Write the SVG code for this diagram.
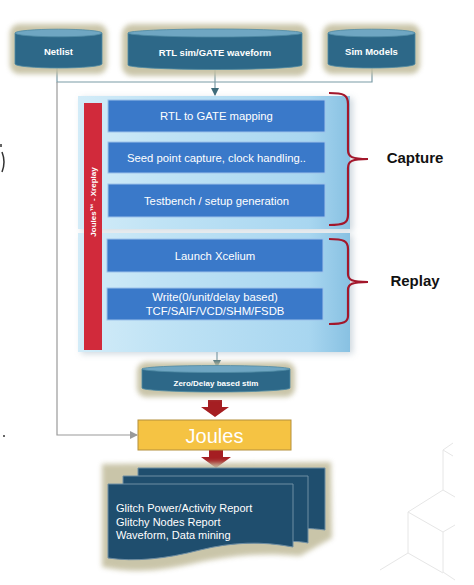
<svg xmlns="http://www.w3.org/2000/svg" width="474" height="585" viewBox="0 0 474 585">
<defs>
<filter id="blur" x="-20%" y="-50%" width="140%" height="200%">
<feGaussianBlur stdDeviation="2.5"/>
</filter>
<filter id="shadow" x="-10%" y="-10%" width="130%" height="130%">
<feGaussianBlur in="SourceAlpha" stdDeviation="3" result="b"/>
<feOffset dx="3" dy="2" in="b" result="o"/>
<feFlood flood-color="#8aa0b0" flood-opacity="0.4"/>
<feComposite in2="o" operator="in" result="s"/>
<feMerge><feMergeNode in="s"/><feMergeNode in="SourceGraphic"/></feMerge>
</filter>
<linearGradient id="panel" x1="0" y1="0" x2="1" y2="0">
<stop offset="0" stop-color="#d3ecf8"/>
<stop offset="0.3" stop-color="#c0e3f5"/>
<stop offset="0.85" stop-color="#a8d6f0"/>
<stop offset="1" stop-color="#88c1e2"/>
</linearGradient>
<marker id="ah" markerWidth="8" markerHeight="8" refX="7" refY="4" orient="auto" markerUnits="userSpaceOnUse">
<path d="M0,0 L8,4 L0,8 Z" fill="#3e6b7a"/>
</marker>
<marker id="ahg" markerWidth="8" markerHeight="8" refX="7" refY="4" orient="auto" markerUnits="userSpaceOnUse">
<path d="M0,0 L8,4 L0,8 Z" fill="#9a9a9a"/>
</marker>
<style>
.halo{fill:#c4bfa0;opacity:0.9}
.cylbody{fill:#2d6888;stroke:#4f8aa3;stroke-width:0.8}
.cyltop{fill:#6fa6c2;stroke:#4f8aa3;stroke-width:0.8}
.cyltxt{font-family:"Liberation Sans",Arial,sans-serif;font-weight:bold;fill:#ffffff;text-anchor:middle}
.box{fill:#3a79c9;stroke:#9cc2ea;stroke-width:1}
.boxtxt{font-family:"Liberation Sans",Arial,sans-serif;font-size:11.3px;fill:#ffffff;text-anchor:middle}
.brace{fill:none;stroke:#a3172b;stroke-width:2.2}
.lbl{font-family:"Liberation Sans",Arial,sans-serif;font-size:15px;font-weight:bold;fill:#111111;text-anchor:middle}
.conn{fill:none;stroke:#7b9ba6;stroke-width:1.2}
.gconn{fill:none;stroke:#9a9a9a;stroke-width:1.2}
.bigarrow{fill:#a51e22}
.doc{fill:#1f4e6e;stroke:#6f8ea3;stroke-width:1}
.doctxt{font-family:"Liberation Sans",Arial,sans-serif;font-size:11px;fill:#ffffff}
.deco{fill:none;stroke:#e6e6e6;stroke-width:1}
</style>
</defs>
<rect width="474" height="585" fill="#ffffff"/>

<g id="decoration">
<path class="deco" d="M453,443 L443,450 L453,456 M443,450 L443,490 L408,512 L408,553 L380,570 M443,490 L455,497 M408,512 L443,532 L443,572 L455,580 M443,532 L455,525 M408,553 L443,573"/>
<path d="M1,144 L1,147 M2,152 Q6,162 2,172" fill="none" stroke="#333" stroke-width="1.5"/>
<circle cx="4" cy="436" r="1" fill="#333"/>
</g>

<g id="connectors">
<path class="conn" d="M57,68 L57,82 L372,82 L372,67"/>
<path class="conn" d="M215,70 L215,95" marker-end="url(#ah)"/>
<path class="gconn" d="M57,82 L57,435 L137,435" marker-end="url(#ahg)"/>
<path class="conn" d="M217,352 L217,367" marker-end="url(#ah)"/>
<path class="bigarrow" d="M208,400 L222,400 L222,407 L229,407 L215,417 L201,407 L208,407 Z"/>
<path class="bigarrow" d="M209,450 L223,450 L223,457 L231,457 L216,468 L201,457 L209,457 Z"/>
</g>

<g id="netlist">
<rect class="halo" x="10" y="24" width="97" height="50" rx="9" filter="url(#blur)"/>
<path class="cylbody" d="M15,33 L15,64 A43.5,4 0 0 0 102,64 L102,33 Z"/>
<ellipse class="cyltop" cx="58.5" cy="33" rx="43.5" ry="3.8"/>
<text class="cyltxt" x="58.5" y="55" font-size="9.5">Netlist</text>
</g>
<g id="rtlsim">
<rect class="halo" x="122" y="24" width="186" height="52" rx="10" filter="url(#blur)"/>
<path class="cylbody" d="M128,33 L128,65 A87,4.5 0 0 0 302,65 L302,33 Z"/>
<ellipse class="cyltop" cx="215" cy="33" rx="87" ry="4"/>
<text class="cyltxt" x="215" y="56" font-size="9.5">RTL sim/GATE waveform</text>
</g>
<g id="simmodels">
<rect class="halo" x="323" y="24" width="97" height="50" rx="9" filter="url(#blur)"/>
<path class="cylbody" d="M328,33 L328,64 A43.5,4 0 0 0 415,64 L415,33 Z"/>
<ellipse class="cyltop" cx="371.5" cy="33" rx="43.5" ry="3.8"/>
<text class="cyltxt" x="371.5" y="55" font-size="9.5">Sim Models</text>
</g>

<g id="panel" filter="url(#shadow)">
<rect x="78" y="96" width="272" height="133" fill="url(#panel)"/>
<rect x="78" y="233" width="272" height="119" fill="url(#panel)"/>
</g>
<g id="xreplay-bar">
<rect x="84" y="103" width="18" height="247" fill="#d12a3b"/>
<text x="0" y="0" transform="translate(96,202) rotate(-90)" font-family="Liberation Sans, Arial, sans-serif" font-size="8" font-weight="bold" fill="#ffffff" text-anchor="middle">Joules™ - Xreplay</text>
</g>

<g id="rtl-gate">
<rect class="box" x="108" y="100" width="217" height="32"/>
<text class="boxtxt" x="216.5" y="120">RTL to GATE mapping</text>
</g>
<g id="seed">
<rect class="box" x="108" y="142" width="217" height="31"/>
<text class="boxtxt" x="216.5" y="161.5">Seed point capture, clock handling..</text>
</g>
<g id="testbench">
<rect class="box" x="108" y="184" width="217" height="33"/>
<text class="boxtxt" x="216.5" y="204.5">Testbench / setup generation</text>
</g>
<g id="launch">
<rect class="box" x="107" y="239" width="216" height="33"/>
<text class="boxtxt" x="215" y="259.5">Launch Xcelium</text>
</g>
<g id="write">
<rect class="box" x="107" y="288" width="216" height="32"/>
<text class="boxtxt" x="215" y="301">Write(0/unit/delay based)</text>
<text class="boxtxt" x="215" y="314.5">TCF/SAIF/VCD/SHM/FSDB</text>
</g>

<g id="capture">
<path class="brace" d="M329,93 C344,93 348,95 348,104 L348,150 C348,157 352,159 368,159 C352,159 348,161 348,168 L348,215 C348,223 344,225 329,225"/>
<text class="lbl" x="415" y="163">Capture</text>
</g>
<g id="replay">
<path class="brace" d="M329,239 C344,239 348,241 348,249 L348,274 C348,280 352,282 368,282 C352,282 348,284 348,290 L348,316 C348,322 344,324 329,324"/>
<text class="lbl" x="415" y="286">Replay</text>
</g>

<g id="stim">
<rect class="halo" x="137" y="362" width="158" height="35" rx="9" filter="url(#blur)"/>
<path class="cylbody" d="M142,369 L142,388 A74,4 0 0 0 290,388 L290,369 Z"/>
<ellipse class="cyltop" cx="216" cy="369" rx="74" ry="3.5"/>
<text class="cyltxt" x="216" y="385.5" font-size="8">Zero/Delay based stim</text>
</g>

<g id="joules">
<rect x="138" y="420" width="153" height="30" fill="#f5c343" stroke="#b48f3c" stroke-width="1"/>
<text x="214.5" y="443" font-family="Liberation Sans, Arial, sans-serif" font-size="20" fill="#ffffff" text-anchor="middle">Joules</text>
</g>

<g id="reports">
<path class="halo" d="M102,464 L331,462 L332,538 L300,556 C260,552 230,556 200,562 C160,572 130,573 102,567 Z" filter="url(#blur)"/>
<path class="doc" d="M138,468 L325,468 L325,530 C310,528 300,528 290,530 L290,500 L138,500 Z"/>
<path class="doc" d="M123,476 L308,476 L308,543 C298,541 290,541 280,543 L280,510 L123,510 Z"/>
<path class="doc" d="M108,484 L293,484 L293,547 C262,541 232,542 200,550 C165,559 135,562 108,558 Z"/>
<text class="doctxt" x="116" y="512">Glitch Power/Activity Report</text>
<text class="doctxt" x="116" y="525.5">Glitchy Nodes Report</text>
<text class="doctxt" x="116" y="539">Waveform, Data mining</text>
</g>
</svg>
